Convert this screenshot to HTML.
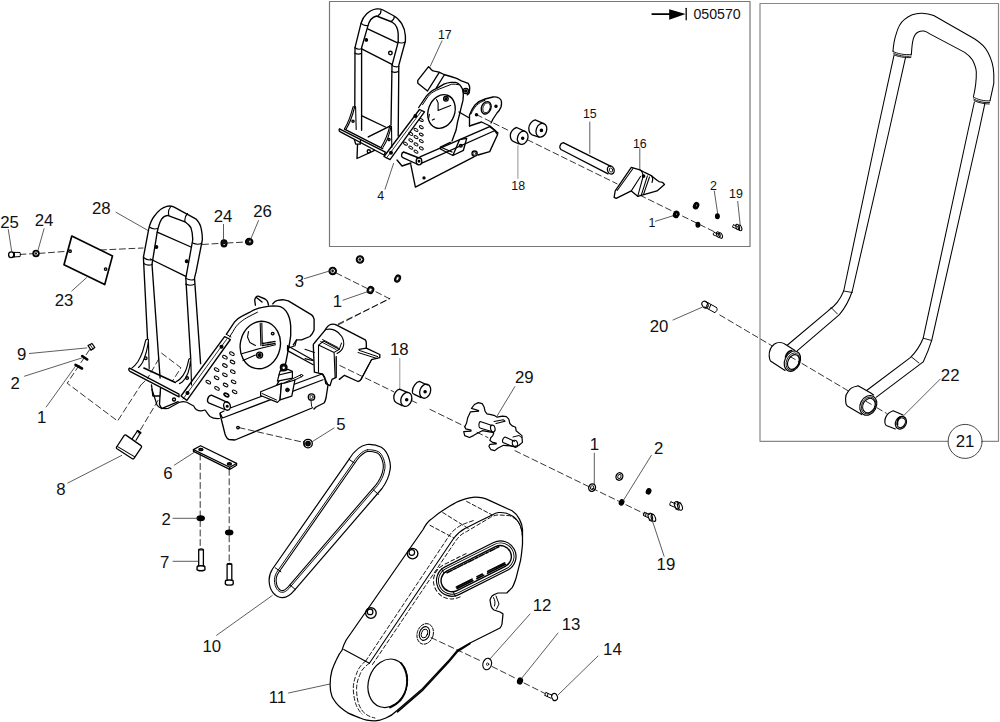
<!DOCTYPE html>
<html><head><meta charset="utf-8"><style>
html,body{margin:0;padding:0;background:#fff;}
svg{display:block;}
text{font-family:"Liberation Sans",sans-serif;fill:#111;}
</style></head><body>
<svg width="1000" height="722" viewBox="0 0 1000 722">
<rect width="1000" height="722" fill="#fff"/>
<g fill="none" stroke="#000" stroke-width="1.35" stroke-linejoin="round" stroke-linecap="round">
<!-- frames -->
<rect x="329.5" y="1.5" width="420.5" height="245" stroke="#777" stroke-width="1.2"/>
<path d="M760,441.3 V3.5 H998.5 V441.3 H982.1 M948.1,441.3 H760" stroke="#888" stroke-width="1.2"/>
<circle cx="965.1" cy="441.4" r="17" stroke="#444" stroke-width="1"/>
<!-- arrow 050570 -->
<path d="M652.1,14.1 H670" stroke-width="1.6"/>
<path d="M669.2,9.3 L685.6,14.1 L669.2,19.8 Z" fill="#000" stroke="none"/>
<path d="M686.2,8.3 V19.8" stroke-width="1.3"/>
<text x="693.4" y="19.3" font-size="15.2" textLength="47.3" lengthAdjust="spacingAndGlyphs" stroke="none">050570</text>

<!-- top box: handle frame -->
<path d="M354.8,106.8 L355,47.7 L361,23.3 C363,16 369,10 376.6,8.9 C379,8.6 381,9 383,10 L393.2,15.5 C400,19 405,27 405.4,36 L405.4,41 L398.8,65.4 L398.2,136"/>
<path d="M361.6,130.3 L361.6,47.7 L367.7,26.6 C369,21 372,17 376.6,16 L392,22 C396,24.5 398,28 398.2,34 L398.2,42 L392,65.4 L391,125"/>
<path d="M361.1,23.3 Q363.8,26.1 367.7,25.5 M378.2,15.5 Q381.2,13.7 381.0,10.2 M391.0,21.6 Q394.2,20.1 394.3,16.6 M397.6,42.1 Q401.5,43.9 405.4,42.1 M355.0,47.7 Q358.0,50.0 361.6,48.8 M355.0,53.2 Q358.3,55.0 361.6,53.2 M392.1,65.4 Q395.2,67.7 398.8,66.5 M391.6,71.5 Q394.9,73.3 398.2,71.5" stroke-width="1.15"/>
<path d="M367.7,28.8 L397,42.7 M361.6,48.8 L392,64.3"/>
<circle cx="366.3" cy="39.9" r="1.2" fill="#000"/>
<circle cx="390.4" cy="53" r="1.8"/>
<!-- bracket at bottom of handle -->
<path d="M339.5,128.8 L385.4,152.2 M339,129.7 C339,131 339.5,131.5 340.4,131.8 L384,155 M385.4,152.2 L384,155"/>
<path d="M344.5,129.2 L382.7,148.6"/>
<path d="M353,106.8 C351,115 348,123 344.5,128.8 M353,106.8 L355.5,106.8 M354.5,107.5 C352.5,116 349.5,123.5 346,129.3" stroke-width="1.1"/>
<circle cx="353" cy="121.2" r="1.1"/>
<path d="M355.6,107 L356.2,129.5 M391.5,126.5 L391.8,147.5" stroke-width="1.1"/>
<path d="M389.9,125.7 C388,134 385,141 381.4,146.8 M389.9,125.7 L391.5,126.5 M391,126.5 C389.5,135 386.5,142 383,147.3" stroke-width="1.1"/>
<circle cx="389" cy="139.6" r="1.1"/>
<path d="M368.3,136.9 L389.9,126.1" stroke-width="1.6"/>
<path d="M362,115.8 L385.4,127"/>
<path d="M354.4,139.6 L355.7,144.1 L360.2,144.1 L360.5,140.5 M357.5,145 L357,158.5 L374.6,150.4"/>
<circle cx="368.8" cy="151.3" r="1.6"/>

<!-- perforated strip -->
<path d="M384,156.5 L419.5,109.5 L424.5,111.8 L390,159.6 Z"/>
<path d="M421.5,111 L386.5,158" stroke-width="0.8"/>
<circle cx="391" cy="152.7" r="1.3" fill="#000"/>
<circle cx="415.4" cy="116" r="1.3" fill="#000"/>
<!-- holes grid -->
<g stroke-width="1">
<ellipse cx="421.3" cy="120" rx="2.2" ry="1.2" transform="rotate(30 421.3 120)"/>
<ellipse cx="421.3" cy="127.2" rx="2.2" ry="1.2" transform="rotate(30 421.3 127.2)"/>
<ellipse cx="421.3" cy="134.5" rx="2.2" ry="1.2" transform="rotate(30 421.3 134.5)"/>
<ellipse cx="421.3" cy="141.1" rx="2.2" ry="1.2" transform="rotate(30 421.3 141.1)"/>
<ellipse cx="421.3" cy="148.3" rx="2.2" ry="1.2" transform="rotate(30 421.3 148.3)"/>
<ellipse cx="416" cy="129.9" rx="2.2" ry="1.2" transform="rotate(30 416 129.9)"/>
<ellipse cx="416" cy="137.1" rx="2.2" ry="1.2" transform="rotate(30 416 137.1)"/>
<ellipse cx="416" cy="144.3" rx="2.2" ry="1.2" transform="rotate(30 416 144.3)"/>
<ellipse cx="416" cy="151.6" rx="2.2" ry="1.2" transform="rotate(30 416 151.6)"/>
<ellipse cx="410.8" cy="133.8" rx="2.2" ry="1.2" transform="rotate(30 410.8 133.8)"/>
<ellipse cx="410.8" cy="140.4" rx="2.2" ry="1.2" transform="rotate(30 410.8 140.4)"/>
<ellipse cx="410.8" cy="147.6" rx="2.2" ry="1.2" transform="rotate(30 410.8 147.6)"/>
<ellipse cx="405.5" cy="143.7" rx="2.2" ry="1.2" transform="rotate(30 405.5 143.7)"/>
</g>
<!-- teardrop plate -->
<path d="M418.7,107.5 L424.5,98.8 C426,96.5 427.5,94.5 429.4,93 C432,90.5 434.5,89.2 437.2,88.1 L443.9,84.2 C446,83.2 448.5,82.5 450.7,82.3 L455.6,82.3 C457,82.6 458,83.2 458.5,83.8 C460,85 461,86 461.4,87.2 C462.3,88.5 462.8,89.8 462.9,91 C463.3,92.5 463.4,94 463.3,95.9 C463.2,97.5 463.1,99 462.9,100.7 L461.4,106.6 L459.5,114.3 L457.5,122.1 L456.1,130 L452,141"/>
<path d="M422.6,104.6 L427,98 C428,96.5 428.6,95.7 429.4,94.9 C432,92.3 435.5,90.5 439.1,89.1 L451.7,84.2 C454,84 456.5,84.2 458.5,84.7" stroke-width="1"/>
<ellipse cx="441.5" cy="111.5" rx="13.2" ry="17.3" transform="rotate(20 441.5 111.5)"/>
<path d="M438.1,102.7 L438.1,110.4 L443,108.5 L450.7,105.6 M436.5,99.5 L438.1,102.7 M429.4,114.3 L428.5,119 M432.3,120.1 L434.5,119" stroke-width="1.1"/>
<circle cx="445.9" cy="98.8" r="2.3"/>
<circle cx="445.9" cy="98.8" r="0.9" fill="#000"/>
<!-- part 17 shroud -->
<path d="M428.4,66.8 C429.5,67.3 430.3,68.2 430.9,69.2 C432,70.3 433,70.9 434.2,71.2 L439.1,72.1 L443.9,74.5 L450.7,76.5 L456.6,78.4 L461.4,80.9 L468.2,83.3 C469.3,85 469.8,86.5 469.7,88.1 C469.6,90 469.4,91.5 469.2,93 L467.2,94.9 M428.4,66.8 L417.8,80.4 L417.8,83.3 L427.5,91 M439.1,72.6 L427.5,91 M443.9,75.5 L436.2,88.1"/>
<circle cx="465.8" cy="91" r="2.6"/>
<circle cx="465.8" cy="91" r="1.1" fill="#000"/>
<!-- bottom foot bracket -->
<path d="M450.3,142.4 L440.4,147 L440.4,149 L452.9,155.5 L463.4,150.3 L466.7,138.4 L459.5,139.7 M452.9,155.5 L459.5,139.7 M440.4,147 L452,152"/>
<circle cx="460.8" cy="145.7" r="1.4"/>
<!-- ear plate -->
<path d="M469.5,126 L469.5,115 C471,111 473,107.5 475,105 C478,102 481.5,100 485,99 L493,97 C495.5,96.8 497.5,97.2 499,98 C500.8,99 501.5,100.5 501.5,102 C501.6,104 501.4,105.5 501,107 C500,109.5 498.5,111.5 497,113 L493,119 L491,123" stroke-width="1.35"/>
<path d="M471,114 C472.5,110.5 474.5,107.5 476.5,105.5 C479,103 482,101.3 485,100.3" stroke-width="1"/>
<path d="M469.5,126 L481.5,122 L490,126 L498,133" stroke-width="1.35"/>
<ellipse cx="486.2" cy="107.8" rx="4.7" ry="6.4" transform="rotate(22 486.2 107.8)" stroke-width="1.4"/>
<ellipse cx="486.6" cy="107.8" rx="3.5" ry="5.1" transform="rotate(22 486.6 107.8)" stroke-width="0.8"/>
<circle cx="496" cy="106.3" r="1.1" fill="#000"/>
<circle cx="476.5" cy="114.8" r="1.1" fill="#000"/>
<path d="M459,112 L468.5,117.5" stroke-width="1.4"/>
<!-- shaft/rod and lower plate -->
<path d="M420,156.8 L489.7,126.6 M421.3,163.4 L495,130.5 M489.7,126.6 L495,130.5"/>
<path d="M410.8,164.7 L415.4,187.1 L473.9,156.8 M478,155 L489.7,151.6 L497.6,134.5 L495,131.2"/>
<circle cx="474.6" cy="153.6" r="2.6"/>
<circle cx="474.6" cy="153.6" r="1.4" stroke-width="0.7"/>
<circle cx="424" cy="177.9" r="1" fill="#000"/>
<!-- roller -->
<path d="M403.6,152 L419,158 M402.8,157.6 L418,164.5 M403.6,152 C401,153 401,157 402.8,157.6"/>
<ellipse cx="419" cy="161.3" rx="2.8" ry="3.6"/>
<circle cx="419" cy="161.3" r="0.8" fill="#000"/>
<!-- lower edge of perforated plate (below strip) -->
<path d="M397,160 L402,166 L411,163" />

<!-- dashed axis in top box -->
<path d="M476.6,114.7 L510,131.2 M527.5,139.8 L617,183.8 M640,195.2 L719.5,234.3" stroke-width="0.8" stroke-dasharray="6,3.5"/>
<!-- leaders -->
<g stroke-width="0.8" stroke="#333">
<path d="M442,40.8 L430.2,66.4"/>
<path d="M385,189.2 L393.6,163.4"/>
<path d="M517.9,145.6 L517.9,178.4" stroke="#777"/>
<path d="M589.8,122 L589.8,153.3"/>
<path d="M639.8,148.6 L639.8,169.4"/>
<path d="M655.4,221.3 L674.5,215.3"/>
<path d="M714.3,191 L717.8,214.4"/>
<path d="M737.7,201.4 L740.3,225.7"/>
</g>
<!-- bushings 18 -->
<path d="M524.9,131.4 L516.6,127.5 C513.1,128.3 510.3,132.3 510.3,135.3 C510.3,138.3 511.20000000000005,140.6 513.7,141.6 L519.1,144" stroke-width="1.3"/>
<ellipse cx="522.7" cy="137.7" rx="5.1" ry="6.8" transform="rotate(20 522.7 137.7)" stroke-width="1.3"/>
<circle cx="522.7" cy="138.2" r="1.1" fill="#000"/>
<path d="M543.8,123.6 L535.1,119.8 C531.6,120.6 528.8,125 528.8,128 C528.8,131 529.7,133.8 532.2,134.8 L539,137.2" stroke-width="1.3"/>
<ellipse cx="541.4" cy="130.2" rx="5.2" ry="7" transform="rotate(20 541.4 130.2)" stroke-width="1.3"/>
<circle cx="541.4" cy="130.4" r="1.1" fill="#000"/>
<!-- pin 15 -->
<path d="M563.2,142.6 L610.4,166.2 M560.9,149.5 L608.1,173.8 M563.2,142.6 C559.5,143.5 559,148 560.9,149.5"/>
<ellipse cx="610.8" cy="170" rx="3.3" ry="4.1" transform="rotate(-20 610.8 170)"/>
<ellipse cx="611" cy="170" rx="1.6" ry="2.2" transform="rotate(-20 611 170)" stroke-width="0.8"/>
<!-- bracket 16 -->
<path d="M631.3,167.3 L615.2,190.9 L614.1,197.4 L616.2,198.4 L631.3,190.9 L637.7,196.3 L657,190.9 L664.5,184.5 L662.4,182.3 C659.5,182.3 658,181.5 657,180.2 L651.7,175.9 L645.2,172.7 L639.9,169.9 Z" stroke-width="1.3"/>
<path d="M633,168.5 L617.2,190.5 M639.9,169.9 C641.8,171.2 643,173.5 643.1,176.5 L637.7,196.3 M647.4,175.9 L641.2,195.5 M649.5,177 L643.5,194.5 M651.7,175.9 C653,178 653,180.5 652,182.5 M631.3,190.9 L640.5,176.5" stroke-width="1.05"/>
<circle cx="643.5" cy="176" r="1.2" fill="#000"/>
<!-- washers / screws -->
<ellipse cx="676.2" cy="214.4" rx="2.6" ry="3.2" transform="rotate(20 676.2 214.4)" fill="#000"/>
<ellipse cx="676.6" cy="214.2" rx="0.6" ry="0.9" fill="#777" stroke="none"/>
<ellipse cx="696.1" cy="205.7" rx="2.4" ry="3.2" transform="rotate(25 696.1 205.7)" fill="#000"/>
<ellipse cx="696.4" cy="205.5" rx="0.6" ry="0.9" fill="#777" stroke="none"/>
<ellipse cx="697.9" cy="224.8" rx="1.8" ry="2.3" fill="#000"/>
<ellipse cx="717.4" cy="216.3" rx="1.8" ry="2.3" fill="#000"/>
<path d="M714.2,232.4 L717.8,234 M713.4,234.8 L717,236.4 M714.2,232.4 C713.2,233 713,234.3 713.4,234.8" stroke-width="0.95"/>
<ellipse cx="718.3" cy="234.6" rx="1.7" ry="2.9" transform="rotate(-20 718.3 234.6)" stroke-width="1.05"/>
<ellipse cx="720.6" cy="235.5" rx="1.7" ry="2.9" transform="rotate(-20 720.6 235.5)" stroke-width="1.05"/>
<path d="M733.6,224.8 L737.2,226.4 M732.8,227.2 L736.4,228.8 M733.6,224.8 C732.6,225.4 732.4,226.7 732.8,227.2" stroke-width="0.95"/>
<ellipse cx="737.7" cy="227" rx="1.7" ry="2.9" transform="rotate(-20 737.7 227)" stroke-width="1.05"/>
<ellipse cx="740" cy="227.9" rx="1.7" ry="2.9" transform="rotate(-20 740 227.9)" stroke-width="1.05"/>

<g stroke-width="1.05">
<!-- big handle 21 -->
<path d="M893,51.4 C893.5,44 894.5,39 895.9,34.9 C898,27 901,22 904.6,19.4 C909,15.5 915,13 922,13.2 C926,13.3 930,14 933.7,15.5 L974.4,38.8 C981,43 985.5,47.5 988,52.4 C991.5,59 993.5,66 993.8,73.7 L993.8,83.4 L990,100.8"/>
<path d="M911.4,54.3 C911.8,47 912.3,42 913.3,38.8 C914.5,35 916,33 918.2,32 C920,31 922,30.8 924,31 C926,31.5 928,32.5 929.8,33.9 L964.7,52.4 C968.5,55 971,57.5 972.5,60.1 C974.5,64 976,68 976.3,71.7 C976.5,80 975.5,88 973.4,97"/>
<!-- caps -->
<path d="M893,51.4 C896,53.5 906,55.5 911.4,54.3 M893.5,53.2 C897,55.3 906,57.2 911.2,56 M894,54.8 C897,56.5 906,58.2 910.8,57.5" stroke-width="0.9"/>
<path d="M973.4,97 C977,99.5 985,101.5 990,100.8 M973.6,99 C977,101.3 985,103.2 989.6,102.6 M974,100.6 C977.5,102.5 985,104.2 989.3,104" stroke-width="0.9"/>
<!-- legs -->
<path d="M894,55.3 L877.7,130 L843.7,291 C840,300 835,306 828.7,310.3 L787.5,345"/>
<path d="M905.6,57.2 L889.3,130 L852.3,291 C849,301 845,308 839.4,314.6 L797.4,350.6"/>
<path d="M974.4,102 L968.2,130 L923.2,338.2 C920,346 916,352 910.3,357.6 L866.6,390.5"/>
<path d="M985,102.8 L979.2,130 L931.7,340.4 C929,349 926.5,355 923.2,361.9 L876.4,397.1"/>
<!-- bend marks -->
<path d="M843.7,291 L852.3,292.5 M831,307.5 L837.5,314 M923.2,338.2 L931.7,340.5 M911.5,357 L919,363" stroke-width="0.9"/>
<!-- collars -->
<path d="M794.9,350.6 L786.8,345.3 C783,342.2 778,341.5 774.5,344 C770.5,347 769,352 769.2,356 C769.3,358 769.6,359.5 770.5,361 L785,370.5" stroke-width="1.15"/>
<ellipse cx="792.4" cy="361.2" rx="7.6" ry="10.6" transform="rotate(25 792.4 361.2)" stroke-width="1.15"/>
<ellipse cx="792.9" cy="361.6" rx="6.3" ry="9.1" transform="rotate(25 792.9 361.6)" stroke-width="0.8"/>
<ellipse cx="793.4" cy="362" rx="5.4" ry="7.7" transform="rotate(25 793.4 362)" stroke-width="1.1"/>
<path d="M785.5,357 C786.5,353 789,351 791.5,350.5" stroke-width="1.6"/>
<path d="M873.6,395 L870.8,393 L860.3,387 C858,385.5 857,386 856.8,386.3 C853,386.8 850,388.5 848.4,391.2 C846.2,394 845.5,396.5 845.6,398.2 C845.6,401 845.8,402.5 846,403.8 C846.5,405 847,405.8 847.7,406.2 L861.7,414.6" stroke-width="1.15"/>
<ellipse cx="868.3" cy="405.4" rx="8" ry="10.3" transform="rotate(28 868.3 405.4)" stroke-width="1.15"/>
<ellipse cx="868.6" cy="405.5" rx="6.8" ry="8.9" transform="rotate(28 868.6 405.5)" stroke-width="0.8"/>
<ellipse cx="868.9" cy="405.6" rx="5.9" ry="7.6" transform="rotate(28 868.9 405.6)" stroke-width="1.1"/>
<!-- bushing 22 -->
<path d="M903,415 L893.2,410.8 C890,412 887.5,413.5 886.2,416.4 C885,418.5 884.7,420.5 884.8,422 C885,423.8 885.5,425 886.2,425.5 L895.3,429" stroke-width="1.15"/>
<ellipse cx="900.9" cy="422.7" rx="5.3" ry="6.6" transform="rotate(28 900.9 422.7)" stroke-width="1.15"/>
<ellipse cx="901.2" cy="422.8" rx="3.9" ry="5.1" transform="rotate(28 901.2 422.8)" stroke-width="1.1"/>
<path d="M897.5,425 C897,421 898.5,418 900.5,417" stroke-width="1.6"/>
<!-- screw 20 -->
<ellipse cx="705" cy="304.6" rx="2.8" ry="3.6" transform="rotate(-35 705 304.6)" stroke-width="1.1"/>
<path d="M706.5,302 L716.5,307.5 M704.5,307 L714.5,312.5 M716.5,307.5 C718,309 717,312 714.5,312.5 M708,303 L706,307 M711,304.5 L709,308.8" stroke-width="1"/>
<!-- dashed -->
<path d="M719.8,315 L772,345.8 M790,356.5 L800,362.3 M802,363.5 L848.5,391 M866,401.3 L874.5,406.3 M877,407.8 L886.4,413.3" stroke-width="0.8" stroke-dasharray="6,3.5"/>
<!-- leaders -->
<path d="M673,320 L702.2,307.2 M940.3,379 L903.8,415.5" stroke-width="0.8" stroke="#333"/>
</g>

<!-- handle 28 -->
<path d="M147.5,338.4 L143.4,257.3 L148.6,229.6 C150,223 152,219 154.6,215.8 C158,211 162,207.5 166.8,206.3 C169,205.8 171.5,206 173.7,206.8 L196.2,219.2 C199,222 200.8,225.5 201.4,229.6 C202.2,234 202.5,237 202.3,240 L196.2,271.2 L194.5,278.1 L200.6,363.6"/>
<path d="M160.1,378 L152,264.3 L157.2,232.2 C158.5,226 159.8,222 161.6,219.2 C163,217 165,215.8 167.6,215.4 L185,221.8 C188,224 190,226 191,227.9 C192.3,232 192.8,236 192.7,240 L185.8,278.1 L190.7,358.2"/>
<path d="M149.4,227.0 Q153.0,229.9 157.5,228.5 M170.5,207.0 Q167.5,210.8 168.9,215.5 M187.5,213.5 Q184.1,217.1 185.0,222.0 M192.8,243.0 Q197.2,245.3 201.8,243.3 M143.6,257.5 Q147.2,260.8 152.0,259.8 M143.8,263.5 Q147.7,266.2 152.2,264.5 M185.8,278.1 Q189.8,281.0 194.5,279.5 M185.5,284.0 Q189.9,286.3 194.4,284.3" stroke-width="1.15"/>
<path d="M157.2,232.2 L191,247 M150.3,259 L185.8,276.4"/>
<circle cx="156.4" cy="247" r="1.3" fill="#000"/>
<circle cx="186.7" cy="261.3" r="1.3" fill="#000"/>
<!-- bracket bar -->
<path d="M129.5,368.1 L179,394.2 M129.5,368.1 C128.3,369 128.6,371 130.4,371.7 L179,396.9 M179,394.2 L179,396.9"/>
<path d="M143.9,368.1 L175.4,382.5" stroke-width="1.6"/>
<!-- gussets -->
<path d="M145.7,340.2 C144.5,345 143.5,349 142.5,352 C141,356 139.5,359 138,361.5 C136,364.5 134,366.5 131.8,368.1 M145.7,340.2 C146.3,339.3 147.5,339 148.4,339.6 M148.4,341 C147.8,346 147,349 146.3,352 C145.2,356 144,359.5 142.5,362.5 C141,365 140,366.2 138.5,367.5 M148.4,340 L149.2,368.5" stroke-width="1.15"/>
<circle cx="145.7" cy="358.2" r="1.3"/>
<path d="M188.9,359.1 C187.8,364 186.8,368 185.5,371 C184,374.5 182,377 180,379 C178.8,380.2 177.5,381 176.3,381.6 M188.9,359.1 C189.5,358.4 190.5,358.4 191,359.2 M190.5,361 C190,366 189,370 188,373 C186.5,377 184.5,380 182.5,381.8 C181.5,382.6 180.5,383.2 179.5,383.6 M190.8,360 L191.5,385" stroke-width="1.15"/>
<circle cx="187.1" cy="378" r="1.3"/>
<!-- below bar -->
<path d="M151.5,385 L152.9,396 L160.1,396 L160.5,388 M160.2,392 L159.5,404.5 L161.6,408.6 L178.2,401.7"/>
<circle cx="174" cy="399.5" r="1.5"/>
<!-- dashed -->
<g stroke-width="0.8" stroke-dasharray="6,3.5">
<path d="M161.6,353.2 L180.9,367.8 L172.6,380.9"/>
<path d="M158.8,358.8 L147.7,378.2"/>
<path d="M89.6,349.6 L67.2,383.2 L117.6,421 L140.8,385.1"/>
<path d="M140.8,385.1 L146,380"/>
<path d="M158.1,400.3 L138.4,433.2"/>
<path d="M20,254.4 L33,253.7 M39,253.4 L68.4,251.2 M100.4,250 L143,248 M202.5,244.5 L221,243.3 M227,243 L246,242"/>
</g>

<!-- perforated strip -->
<path d="M181,396 L224.6,336.6 L230.4,339.5 L186.9,400.4 Z"/>
<path d="M226.5,339.5 L183,399" stroke-width="0.8"/>
<circle cx="221.5" cy="346.8" r="1.4" fill="#000"/>
<circle cx="187.5" cy="393" r="1.4" fill="#000"/>
<!-- holes -->
<g stroke-width="1.05">
<ellipse cx="231.9" cy="353.7" rx="2.6" ry="1.4" transform="rotate(30 231.9 353.7)"/>
<ellipse cx="224.9" cy="357.2" rx="2.6" ry="1.4" transform="rotate(30 224.9 357.2)"/>
<ellipse cx="232.5" cy="362" rx="2.6" ry="1.4" transform="rotate(30 232.5 362)"/>
<ellipse cx="224.9" cy="365.5" rx="2.6" ry="1.4" transform="rotate(30 224.9 365.5)"/>
<ellipse cx="216.6" cy="369.6" rx="2.6" ry="1.4" transform="rotate(30 216.6 369.6)"/>
<ellipse cx="232.8" cy="371.7" rx="2.6" ry="1.4" transform="rotate(30 232.8 371.7)"/>
<ellipse cx="224.9" cy="374.8" rx="2.6" ry="1.4" transform="rotate(30 224.9 374.8)"/>
<ellipse cx="216.6" cy="377.8" rx="2.6" ry="1.4" transform="rotate(30 216.6 377.8)"/>
<ellipse cx="208.3" cy="382.1" rx="2.6" ry="1.4" transform="rotate(30 208.3 382.1)"/>
<ellipse cx="233.6" cy="381.8" rx="2.6" ry="1.4" transform="rotate(30 233.6 381.8)"/>
<ellipse cx="225.6" cy="385" rx="2.6" ry="1.4" transform="rotate(30 225.6 385)"/>
<ellipse cx="217" cy="388.4" rx="2.6" ry="1.4" transform="rotate(30 217 388.4)"/>
<ellipse cx="234.6" cy="391.8" rx="2.6" ry="1.4" transform="rotate(30 234.6 391.8)"/>
<ellipse cx="226.4" cy="395" rx="2.6" ry="1.4" transform="rotate(30 226.4 395)" stroke-width="1.6"/>
</g>
<!-- teardrop plate -->
<path d="M229.5,337 L233,331.5 C235,327.5 237.5,324.5 240,322.5 C243,320 246,318 249,316.5 L257.5,312.2" stroke-width="1"/>
<path d="M226.3,334.3 L234.6,321.9 C237,319 239,317.5 241.6,316.3 L249.9,312.2 C252,311 253.5,310 255.4,309.4 C258,308.3 260,307.7 262.3,307.3 C266,306.5 270,306 273.4,305.9 C276,305.9 278,306 280.3,306.6 C283,307.5 284.5,309 285.9,310.8 C287.5,313 288.5,315 289.3,317.7 C290.2,321 290.6,323.5 290.7,326 L290.7,335.7 C290.2,340 289.5,344 288.6,348.2 L285.9,362 L283.1,373.1 L280.6,370.6 M283.1,373.1 L275.6,387.4"/>
<ellipse cx="260.3" cy="345" rx="20" ry="23.9" transform="rotate(12 260.3 345)"/>
<path d="M260.2,323.2 L260.9,345.4 M261.8,323 L262.3,344 M241.6,353.7 L260.9,348.2 L275.5,344.7 M243,360.6 L255.4,355.1 M248.5,331.6 L247.5,337 L249.9,342.6 L255.4,345.4" stroke-width="1.1"/>
<path d="M262.5,343.5 L275,341.5 M262.5,345.5 L275,343.5" stroke-width="1.4" stroke-dasharray="1.5,1"/>
<circle cx="259.6" cy="355.1" r="3"/>
<circle cx="259.6" cy="355.1" r="1.4" fill="#000"/>
<circle cx="272.7" cy="333.6" r="1.3"/>
<!-- top tab -->
<path d="M254.7,300.4 C255,297.5 256.5,296 258.2,296.2 L265.1,299 C266.5,300 267.5,301 267.9,302.5 L268.5,305 M254.7,300.4 L255.4,305.2 M256.5,297.5 L262,302"/>
<!-- shroud behind -->
<path d="M272.7,303.9 C274.5,301.5 276,300.5 277.6,300.4 C279.5,299.9 281.5,299.7 283.1,299.7 L288.3,300.8 L311.6,314.9 C313,316 313.8,317.5 314.1,319.1 L314.1,329.9 C313,333 311.5,335 309.9,336.5 L301.6,339.9 L296.6,339.9 L293.3,344.8"/>
<path d="M289.3,347.7 L295,345.8 L296.6,339.9" stroke-width="1.1"/>
<!-- base plate under shroud -->
<path d="M287.5,345.7 L312.4,359.8 M287.5,350.6 L313.2,364.8 M287.5,345.7 L287.5,350.6" stroke-width="1.2"/>
<!-- clamp bracket -->
<path d="M324.7,330.6 C326.5,327.5 328.5,325 331,324.4 C333,324 334.8,324.2 336.2,324.9 L365.3,339.9 C366,340.8 366.3,342 366.3,343 L366.3,348.2"/>
<path d="M359,349.3 L366.3,348.2 L379.8,354.5 L379.8,357.6 L371.5,359.7 L361.1,379.4 C360,380.8 359,381.3 358,381.5 L344.5,375.3 L339.3,379.4"/>
<path d="M359,350.3 L377.7,356.6 M358,352.5 L377,358.5 M371.5,359.7 L360,381" stroke-width="1"/>
<path d="M324.7,330.6 L314.4,343 C313.6,343.8 313.3,344.5 313.3,345.1 L314.4,372.1 L322.7,374.2 L324.7,377.3 L325.8,383.6 L330,385.6 L332,379.4 L336.2,377.3 L336.2,356.6"/>
<path d="M318.5,345.1 L318.5,372.1 M318.5,345.1 L323.7,341 L339.3,349.3 L334.1,352.4 L335.1,377.3 M318.5,345.1 L334.1,352.4" stroke-width="1.1"/>
<path d="M320.6,341.5 L336,349.5 M322.5,339.5 L338,347.5" stroke-width="0.9"/>
<path d="M325.8,329.5 C332,328 338.5,331 341.8,336.5 C344,340.5 344,344 343.4,346.2 C342.5,350 340,352 337,353.5" stroke-width="1.1"/>
<path d="M339.3,349.3 L341.5,343" stroke-width="1"/>
<path d="M305,349.3 L314.4,352.4 M305,358.6 L313.3,360.7" stroke-width="1.1"/>
<!-- rod -->
<path d="M230.9,407.7 L322,374 M220,413 L222.5,418 L323,379.7 M220,413 L224,411" stroke-width="1.2"/>
<!-- roller -->
<path d="M211.4,395.2 L228.5,402.8 M208.6,402.8 L224.7,409.5 M211.4,395.2 C207.5,396 206.5,401.5 208.6,402.8"/>
<ellipse cx="227" cy="406" rx="3.3" ry="4.3" transform="rotate(-15 227 406)"/>
<circle cx="227.2" cy="406.2" r="0.9" fill="#000"/>
<!-- foot bracket (center bottom) -->
<path d="M261.9,393.7 L301.1,374.7 M262.5,395.6 L301.8,376.6" stroke-width="1"/>
<ellipse cx="301.6" cy="375.6" rx="1.2" ry="1.1" stroke-width="0.9"/>
<path d="M280,371.2 L288,369.4 L292.4,371.2 L292.4,378.1 L277.4,381.2 Z" fill="#fff" stroke-width="1.2"/>
<path d="M278.7,375 L291.8,371.8" stroke-width="1.2"/>
<path d="M260.6,391.8 L281.5,383.4 L280,399.9 L277.4,402.4 L260.6,395.5 Z" fill="#fff" stroke-width="1.2"/>
<path d="M262,393.5 L276.5,400" stroke-width="1"/>
<path d="M281.5,383.4 L284.3,383.1 L294.9,380 L291.8,396.2 L280,399.9 Z" fill="#fff" stroke-width="1.3"/>
<circle cx="287.4" cy="389.9" r="1.9" fill="#111" stroke-width="0.8"/>
<circle cx="283.7" cy="367.5" r="3.3" fill="#111"/>
<circle cx="283.7" cy="367.8" r="1.2" fill="#fff" stroke="none"/>
<!-- lower plate right end -->
<path d="M322,374 L323,375 L326,381 L328,385 L326,398 C325.5,400 325,402 324,403 L316,407 L314,409"/>
<circle cx="311.5" cy="397" r="3.2"/>
<circle cx="311.5" cy="397" r="1.6" stroke-width="0.8"/>
<path d="M311,400 L311.6,406.3 L313,408" stroke-width="0.9"/>
<!-- bottom guard plate -->
<path d="M220,414 L221,418 L225,434 C226,437 227.5,439 229,439.5 L235,440 L312,408"/>
<circle cx="238" cy="427.6" r="1.3"/>
<!-- plate under teardrop left -->
<path d="M152,389.5 L157,405 C159,408 163,409 168,408.5 L179,402.5 C183,401 187,401.5 190,404 L193.7,406 C195,409 198,411 201.3,410.9 L205.1,410 C206.5,412 208,414.5 210,416.5 C213,418.5 216.5,418.8 219.4,418.5" stroke-width="1.2"/>
<!-- shadow lines on left of teardrop -->
<path d="M226.3,334.3 L231,337" stroke-width="1"/>

<!-- plate 23 -->
<path d="M71.8,236 L112.5,255.9 L104.7,284.6 L64,264.7 Z" stroke-width="1.7"/>
<circle cx="70.1" cy="251.2" r="1.2"/>
<circle cx="105.6" cy="269.1" r="1.2"/>
<!-- screw 25 -->
<ellipse cx="11.2" cy="254.7" rx="2.6" ry="2.9"/>
<path d="M12.5,252.3 L19.8,252.5 M12.5,257 L19.8,256.6 M19.8,252.5 C20.8,253.5 20.8,255.6 19.8,256.6 M14.5,252.4 L14.5,256.9" stroke-width="1"/>
<!-- nut 24 left -->
<circle cx="36" cy="253.5" r="3" fill="#111"/>
<circle cx="36" cy="253.5" r="1.6" fill="none" stroke="#fff" stroke-width="0.7"/>
<!-- nuts 24/26 right -->
<ellipse cx="224" cy="243.3" rx="2.9" ry="3.5" fill="#111"/>
<ellipse cx="224.2" cy="244.5" rx="1" ry="0.6" fill="#ccc" stroke="none"/>
<ellipse cx="249.2" cy="241.7" rx="3.6" ry="3.2" fill="#111"/>
<circle cx="250" cy="241.5" r="0.9" fill="#ccc" stroke="none"/>
<!-- nut 3, nuts near, washers 1 -->
<circle cx="332.7" cy="270.9" r="3.6" fill="#111"/>
<circle cx="332.7" cy="270.9" r="1.8" fill="none" stroke="#fff" stroke-width="0.8"/>
<circle cx="360" cy="259.5" r="3.6" fill="#111"/>
<circle cx="360" cy="259.5" r="1.8" fill="none" stroke="#fff" stroke-width="0.8"/>
<ellipse cx="370.5" cy="290" rx="3" ry="3.6" transform="rotate(25 370.5 290)" fill="#111"/>
<ellipse cx="370.5" cy="290" rx="1.6" ry="2" transform="rotate(25 370.5 290)" fill="#fff" stroke="#111" stroke-width="0.7"/>
<ellipse cx="397.6" cy="278.6" rx="2.6" ry="3.6" transform="rotate(25 397.6 278.6)" fill="#111"/>
<ellipse cx="397.6" cy="278.6" rx="1.4" ry="2" transform="rotate(25 397.6 278.6)" fill="#fff" stroke="#111" stroke-width="0.7"/>
<!-- nut 9, washers 2/1 (left) -->
<path d="M88,345.5 L92,343.5 L94.8,347.5 L91,350.2 Z" stroke-width="1.3"/>
<path d="M90,344.5 L93,349" stroke-width="0.9"/>
<path d="M82.2,356 L87.2,359.5" stroke-width="2.6"/>
<path d="M75.5,364.8 L82,368.5" stroke-width="2.6"/>
<!-- foot 8 -->
<path d="M124.4,435.2 C125,434.7 125.5,434.8 126,435.1 L141,445.6 C141.6,446 141.7,446.8 141.4,447.3 L134,458.3 C133.6,458.9 132.8,459 132.3,458.7 L117,448.8 C116.3,448.3 116.2,447.5 116.6,447 Z" stroke-width="1.3"/>
<path d="M117.6,446.6 L134.4,456.6" stroke-width="1.1"/>
<path d="M132.2,438.6 L137.7,430.5 L140.7,432.5 L136,440.2" stroke-width="1.2"/>
<path d="M137.5,431 L140.5,433" stroke-width="2"/>
<!-- nut 5 -->
<circle cx="308" cy="443.6" r="4.3"/>
<circle cx="308" cy="443.6" r="2.2" fill="#111"/>
<path d="M303.8,441.5 L305,446.5" stroke-width="1"/>
<!-- bar 6 -->
<path d="M193.4,449.6 L200.6,445.7 L236.6,463.4 L229.7,467.3 Z" stroke-width="1.2"/>
<path d="M193.4,449.6 L193.4,451.4 L229.7,469.4 L236.6,465.2 L236.6,463.4 M229.7,467.3 L229.7,469.4" stroke-width="1.2"/>
<ellipse cx="200.9" cy="449.5" rx="2" ry="1.2" fill="#222"/>
<ellipse cx="229.4" cy="463.9" rx="2" ry="1.2" fill="#222"/>
<!-- washers 2 & bolts 7 -->
<ellipse cx="200.7" cy="518.3" rx="3.6" ry="2.3" fill="#000"/>
<ellipse cx="229.2" cy="532.4" rx="3.6" ry="2.3" fill="#000"/>
<path d="M198.7,566 L198.7,550 C198.7,548.5 203.4,548.5 203.4,550 L203.4,566" stroke-width="1.3"/>
<path d="M198.9,550 L203.2,550" stroke-width="1"/>
<path d="M197.2,566.5 C197.5,565.5 204.5,565.5 204.8,566.5 L205,569.5 C204.5,571.2 197.5,571.2 197,569.5 Z" stroke-width="1.4"/>
<path d="M227.1,580.4 L227.1,564.4 C227.1,562.9 231.8,562.9 231.8,564.4 L231.8,580.4" stroke-width="1.3"/>
<path d="M227.3,564.4 L231.6,564.4" stroke-width="1"/>
<path d="M225.5,580.8 C225.8,579.8 232.9,579.8 233.1,580.8 L233.3,583.8 C232.8,585.6 225.8,585.6 225.3,583.8 Z" stroke-width="1.4"/>
<!-- dashed verticals -->
<g stroke-width="0.8" stroke-dasharray="6,3.5">
<path d="M200.2,454 L200.2,548.2"/>
<path d="M229.2,469.3 L229.2,562.5"/>
<path d="M336.4,273.1 L369.4,289.6 M376,291.8 L389.6,298.8 L336.4,324.8"/>
<path d="M239,427.6 L302,442"/>
</g>
<!-- leaders -->
<g stroke-width="0.8" stroke="#333">
<path d="M8.3,229.6 L11.8,252.1"/>
<path d="M44.1,228.7 L37.7,251.2"/>
<path d="M71.8,291 L86.5,277.7"/>
<path d="M116,212.3 L148,230.5"/>
<path d="M223.5,224.4 L223.5,240"/>
<path d="M258.5,220.6 L250.7,239.2"/>
<path d="M304.5,278.6 L329.8,270.9"/>
<path d="M343,300.2 L367.2,291.8"/>
<path d="M29.4,353.5 L86.8,347.9"/>
<path d="M24.5,376.2 L82.6,357.7"/>
<path d="M46.2,407 L75.6,366.1"/>
<path d="M67.7,483.1 L121.7,455.4"/>
<path d="M174.4,465.1 L193.8,452.6"/>
<path d="M173,518.3 L198,518.3"/>
<path d="M173,561.3 L198,561.3"/>
<path d="M334,428 L312.5,441.5"/>
<path d="M399.8,358.3 L399.8,389.8" stroke="#777"/>
</g>

<!-- bushings 18 lower -->
<path d="M408,392.6 L399.5,389.2 C396.0,390.0 393.8,394.1 393.8,397.1 C393.8,400.1 394.3,402 396.8,403 L402.2,405.7" stroke-width="1.3"/>
<ellipse cx="406.3" cy="399.4" rx="5.3" ry="7.2" transform="rotate(20 406.3 399.4)" stroke-width="1.3"/>
<circle cx="406.7" cy="399.8" r="1.1" fill="#000"/>
<path d="M427.4,385 L419.3,381.4 C415.8,382.2 412.5,387.4 412.5,390.4 C412.5,393.4 411.8,393.4 414.3,394.4 L421.1,397.6" stroke-width="1.3"/>
<ellipse cx="425.2" cy="391.2" rx="5.3" ry="7.2" transform="rotate(20 425.2 391.2)" stroke-width="1.3"/>
<circle cx="425.1" cy="391.7" r="1.1" fill="#000"/>
<!-- part 29 -->
<path d="M471.5,408.4 L474.4,404.5 L478.3,402.6 L482.2,403.6 L484.1,407.0 L485.1,411.3 L487.0,413.8 L490.9,414.7 L494.8,415.7 L497.2,417.2 L499.6,416.7 L502.5,416.2 L506.4,416.7 L508.8,419.1 L509.8,423.5 L512.2,425.9 L515.6,427.3 L516.1,430.7 L521.9,435.6 L522.4,442.4 L519.0,445.3 L515.1,446.3 L503.5,445.3 L497.7,448.2 L494.8,450.6 L490.9,449.7 L488.9,446.3 L489.9,444.3 L496.2,443.9 L496.2,443.2 L492.8,442.4 L489.9,440.4 L490.9,437.5 L492.8,435.6 L493.8,432.7 L482.2,430.7 L478.3,432.7 L473.4,435.6 L469.5,437.5 L464.7,435.6 L463.7,431.7 L471.0,431.1 L471.0,430.2 L465.7,428.8 L464.7,426.9 L466.6,423.0 L467.6,418.1 L470.5,411.8 L478.6,411.2 L478.6,410.5 L471.5,408.4" stroke-width="1.2"/>
<path d="M480.2,421.5 L492,425.5 M480,428 L491.5,431.5 M480.2,421.5 C478.5,423 478.5,427 480,428" stroke-width="1.1"/>
<ellipse cx="492.8" cy="428.5" rx="2.2" ry="3.5" transform="rotate(-15 492.8 428.5)" stroke-width="1.1"/>
<path d="M494,421.5 L503.5,419.8 L505,421.2 L496,423.5" stroke-width="1.1"/>
<path d="M505,437 L514.5,441.2 M503,442.5 L512.5,446.5 M505,437 C502.5,438 502,441.5 503,442.5" stroke-width="1.1"/>
<ellipse cx="515" cy="443.8" rx="2.6" ry="3.6" transform="rotate(-15 515 443.8)" stroke-width="1.1"/>
<path d="M513,437 L519,435.5 L521.5,437.5" stroke-width="1"/>
<!-- washers right (1,2) & screws 19 -->
<ellipse cx="592.1" cy="487.6" rx="3.3" ry="3.8" transform="rotate(25 592.1 487.6)"/>
<ellipse cx="592.1" cy="487.6" rx="1.6" ry="2" transform="rotate(25 592.1 487.6)" stroke-width="0.9"/>
<ellipse cx="619.4" cy="476.5" rx="3.3" ry="3.8" transform="rotate(25 619.4 476.5)"/>
<ellipse cx="619.4" cy="476.5" rx="1.6" ry="2" transform="rotate(25 619.4 476.5)" stroke-width="0.9"/>
<ellipse cx="621.6" cy="502.4" rx="2.1" ry="2.7" transform="rotate(25 621.6 502.4)" fill="#000"/>
<ellipse cx="648.6" cy="491.3" rx="2.1" ry="2.7" transform="rotate(25 648.6 491.3)" fill="#000"/>
<path d="M644.5,512.3 L649.5,514.6 M643.6,515.6 L648.5,517.8 M644.5,512.3 C643.2,513 643,515 643.6,515.6 M646.2,513 L645.5,516.6" stroke-width="1"/>
<ellipse cx="650.3" cy="516.8" rx="2" ry="3.6" transform="rotate(-20 650.3 516.8)" stroke-width="1.1"/>
<ellipse cx="653.4" cy="518" rx="2" ry="3.6" transform="rotate(-20 653.4 518)" stroke-width="1.1"/>
<path d="M650.5,513.2 L653.6,514.4 M649.2,520.2 L652.2,521.5" stroke-width="1"/>
<path d="M671,501.8 L676,504 M670,505.2 L675,507.4 M671,501.8 C669.8,502.5 669.6,504.6 670,505.2" stroke-width="1"/>
<ellipse cx="676.8" cy="505.3" rx="2.2" ry="3.8" transform="rotate(-20 676.8 505.3)" stroke-width="1.1"/>
<ellipse cx="680" cy="506.6" rx="2.2" ry="3.8" transform="rotate(-20 680 506.6)" stroke-width="1.1"/>
<path d="M677.2,501.6 L680.4,502.8 M675.6,508.9 L678.8,510.2" stroke-width="1"/>
<!-- dashed main axis -->
<g stroke-width="0.8" stroke-dasharray="6,3.5">
<path d="M339.8,365.5 L393.8,391.8 M411.8,400.6 L416.5,402.9 M430,409.4 L465,426.5 M477,432.3 L488,437.6 M515,450.7 L645,514"/>
<path d="M338.2,324.9 L390,298.3"/>
</g>
<!-- leaders -->
<g stroke-width="0.8" stroke="#333">
<path d="M514.8,386.7 L497,416.1"/>
<path d="M594.3,453.2 L594.3,484.2"/>
<path d="M651.3,455.4 L623.1,500.9"/>
<path d="M652.6,521.5 L664.1,556.2"/>
</g>

<!-- belt 10 -->
<path d="M367,444.5 C371,444.2 377,445 381.4,447.2 C385,449.5 388,454 389.5,460.2 C390.5,464 390.5,468 390,470 C389,477 386,483 382,488.5 L295,589.6 C291,594.5 287,597.5 282.8,597.6 C279,597.8 275.5,596 273,592.7 C270.5,589.5 269.2,585 269.1,580.5 C269,576.5 270.5,572 272.5,569 L349,459.3 C353.5,452 360,445.5 367,444.5 Z" stroke-width="1.2"/>
<path d="M367.61,449.78 L365.86,450.23 L364.56,450.79 L363.25,451.52 L361.30,452.90 L358.21,455.81 L355.42,459.24 L276.67,572.32 L275.68,574.28 L274.74,577.22 L274.42,579.40 L274.55,582.42 L275.20,585.46 L276.33,588.14 L277.06,589.29 L277.91,590.30 L279.26,591.42 L280.21,591.91 L281.68,592.28 L283.26,592.24 L284.21,591.97 L285.29,591.46 L286.44,590.70 L287.63,589.72 L289.41,587.96 L377.44,485.68 L379.86,482.19 L381.99,478.28 L383.32,475.06 L384.29,471.75 L384.94,468.24 L385.02,466.11 L384.81,463.71 L384.31,461.30 L383.58,458.87 L382.64,456.66 L381.49,454.67 L380.16,453.01 L378.85,451.88 L376.39,450.90 L373.97,450.29 L370.62,449.82 L367.61,449.78 Z" stroke-width="0.95"/>
<path d="M367.80,451.47 L366.44,451.83 L365.31,452.31 L364.14,452.96 L362.36,454.23 L359.46,456.96 L356.79,460.24 L278.12,573.21 L276.99,575.59 L276.40,577.59 L276.12,579.50 L276.24,582.21 L276.82,584.96 L277.53,586.78 L278.79,588.73 L280.18,589.98 L280.85,590.34 L281.85,590.59 L282.97,590.56 L283.61,590.38 L284.93,589.68 L285.96,588.92 L288.16,586.81 L376.14,484.58 L377.95,482.04 L379.70,479.06 L381.13,476.03 L382.22,472.94 L382.80,470.58 L383.30,467.50 L383.28,465.43 L383.01,463.23 L382.23,460.17 L381.43,458.07 L380.45,456.19 L379.33,454.63 L377.94,453.32 L375.88,452.53 L372.85,451.81 L370.48,451.51 L367.80,451.47 Z" stroke-width="1.1"/>
<path d="M349,459.3 L354.7,463.3 M275.2,567.8 L280.9,571.8 M378.4,494.3 L373.1,489.7 M295.4,589.6 L290.1,585" stroke-width="1"/>
<!-- cover 11 -->
<path d="M346.2,640 L423.1,529.5 C426,524 428.5,521 431.4,519.1 C436,515 440,512 443.9,509.7 C449,506.5 453.5,503.5 458.4,501.4 C463,499.5 468,497.8 472.9,497.3 C478,497 483.5,497.5 489.3,500.4 L512.1,510.8 C515.5,513 517.8,516 519.4,519.1 C521.5,523 522.5,526.5 522.5,529.5 L522.5,544 C522,550 521.5,555 520.5,560.6 L516.3,577.2 C515,581.5 513.8,585 512.1,587.6 L507,592.8 L498,593 C495.5,593.8 493,595 492,596 C490.3,598.5 490,600 490,600 L491,606 C492,608.5 493,609.5 494,610 L500,612 C502,613 503,614 503,614 L502,624 C501.5,626.5 500.5,627.5 500,628 L480,638 L470,643 L457.2,650.4 L448,661.3 L422.4,688.8 L396.8,710.7 C393,714.5 389.5,716.5 385.9,718 C382,719.8 378.5,720.7 374.9,720.8 C369,720.8 364,719.8 360.2,718 C355,716 351,714.5 347.4,712.6 C342,709 338.5,706 336.5,703.4 C334,700 332.5,698 331.9,696.1 C330.5,692 330.1,688.5 330.1,685.1 C330.1,679 330.8,674.5 331.9,670.5 C333.5,666 335,662.5 336.5,659.5 C338.5,655 340.5,652 342,650.4 L343.8,644.9 Z" stroke-width="1.25"/>
<path d="M470,643.5 L457.5,651.5 L448.5,662.3 L423,689.8 L397.5,711.8" stroke-width="1.6"/>
<!-- seams -->
<path d="M369.4,663.2 L453.9,538 C457,534 461,530.5 465,528.4 L477.8,522.1 L492.1,514.9 C494,513.8 496,512.8 498.5,512.5 C501,512.3 504,512.6 506.4,513.3 C510,514.5 513.5,516.5 516,518.9 C518,521 519.7,523.8 520.8,526.8 C521.8,530 522.3,533 522.4,536.4" stroke-width="1.1"/>
<path d="M343.8,649.4 L369.4,663.2" stroke-width="1.1"/>
<g stroke-width="0.9" stroke-dasharray="4,2.5">
<path d="M372.5,664.5 L455.5,541.2 C459,536 463,533 466.6,531.6 L490.5,517.3 C493,515.8 496,515 498.5,514.9 L509.6,515.7 C514,517.5 517.5,520.5 519.2,523.7 C521,527 522,531 522.4,534.8"/>
<path d="M365.7,661 L449,536 C453,530 459,525.5 466.5,523 L475,520"/>
<path d="M369.4,663.2 C364,667 361,671 360.2,674.1 C357.5,680 356.6,684 356.6,688.8 C356.6,695 357.3,699 358.4,703.4 C360,707.5 361.5,710 363.9,712.6 C367,715.5 370.5,717 374.9,718"/>
<path d="M365.7,661 C360.5,665 357.5,670 356.5,674 C354,680 353.2,685 353.3,689 C353.5,695 354.5,700 355.8,704 C357.5,708.5 359.5,711.5 362,714"/>
<path d="M430,525.3 L453.9,538 M442.7,512.5 L468.2,528.4 M466.6,501.4 L492.1,514.9"/>
</g>
<!-- bolts on cover -->
<circle cx="412.6" cy="553.6" r="5.3"/>
<circle cx="411.8" cy="552.5" r="2.8" stroke-width="1.2"/>
<circle cx="370.9" cy="613" r="5.3"/>
<circle cx="370.1" cy="611.9" r="2.8" stroke-width="1.2"/>
<!-- slot -->
<g transform="translate(476.2,568.6) rotate(-26.6)">
<path d="M-27,18 C-38,18 -45.5,10 -45.5,0 C-45.5,-10 -38,-18 -27,-18 L0,-18" stroke-width="0.9" stroke-dasharray="4,2.5"/>
<rect x="-42.6" y="-15.5" width="85.3" height="31" rx="15.5" stroke-width="1.2"/>
<rect x="-40.6" y="-13.5" width="81.3" height="27" rx="13.5" stroke-width="0.9"/>
<rect x="-38" y="-11" width="76" height="22" rx="11" stroke-width="1.4"/>
<path d="M-26,9.3 L-8,9.3 M-4,9.3 L4,9.3 M8,9.3 L28,9.3 M-26,7.6 L-8,7.6 M-3,7.6 L3,7.6 M9,7.6 L28,7.6" stroke-width="1.6" stroke-dasharray="0.8,0.6"/>
<path d="M-28,-9.4 L30,-9.4" stroke-width="1.5" stroke-dasharray="6,1.5,3,1.5"/>
<path d="M-31,-15.5 L-31,-11 M-31,15.5 L-31,11" stroke-width="0.9"/>
</g>
<!-- big lower hole -->
<ellipse cx="387.7" cy="683.3" rx="19.2" ry="24.7" transform="rotate(18 387.7 683.3)" stroke-width="1.2"/>
<path d="M401,663 C405,668 407,674 407,681 C407,688 405,694 401.5,699 C398,703 394,706 390,707.5" stroke-width="1.8" stroke-dasharray="3,1.3"/>
<!-- hub -->
<ellipse cx="425.2" cy="633.9" rx="8" ry="10.5" transform="rotate(18 425.2 633.9)" stroke-width="0.9" stroke-dasharray="3,1.5"/>
<ellipse cx="424.5" cy="633.5" rx="5" ry="7" transform="rotate(18 424.5 633.5)" stroke-width="1.1"/>
<ellipse cx="424.5" cy="633.5" rx="3" ry="4.5" transform="rotate(18 424.5 633.5)" stroke-width="0.9"/>
<!-- notch detail -->
<path d="M493.5,597.5 C495,600 495.5,603 494.5,606 M496,596 L499,604 L496.5,609" stroke-width="1"/>
<!-- 12,13,14 -->
<ellipse cx="487.2" cy="664" rx="4.3" ry="5.8" transform="rotate(15 487.2 664)" stroke-width="1.1"/>
<circle cx="487.6" cy="664.2" r="1.2" stroke-width="0.8"/>
<ellipse cx="520" cy="681" rx="2.4" ry="3" transform="rotate(15 520 681)" fill="#000"/>
<path d="M546,692.5 L552,695.2 M545,695.5 L551,698.2 M546,692.5 C545,693.5 545,695 545,695.5 M548,693.5 L547.3,696.7" stroke-width="0.95"/>
<ellipse cx="554.6" cy="697" rx="2.8" ry="3.6" transform="rotate(-20 554.6 697)" stroke-width="1.1"/>
<g stroke-width="0.8" stroke-dasharray="6,3.5">
<path d="M431,637.6 L482,661.5 M492,666.5 L516,678.5 M524,683 L545,693.5"/>
</g>
<g stroke-width="0.8" stroke="#333">
<path d="M216.6,635.3 L272.3,595.5"/>
<path d="M288.5,693 L330,684"/>
<path d="M530,614 L489.5,659.5"/>
<path d="M558,633 L521.5,678.5"/>
<path d="M598,656 L558,695"/>
</g>

<g stroke="none" font-size="16.8" text-anchor="middle">
<text x="9.5" y="228.1">25</text>
<text x="44.1" y="225.5">24</text>
<text x="101.3" y="213.7">28</text>
<text x="223" y="222.4">24</text>
<text x="262.5" y="217.3">26</text>
<text x="64" y="306.4">23</text>
<text x="299.4" y="286.6">3</text>
<text x="337.5" y="307.1">1</text>
<text x="21.7" y="359.9">9</text>
<text x="15.1" y="388.7">2</text>
<text x="41.7" y="423.3">1</text>
<text x="399.3" y="355.1">18</text>
<text x="524.3" y="383.0">29</text>
<text x="341" y="430.2">5</text>
<text x="60.8" y="495.0">8</text>
<text x="168" y="479.2">6</text>
<text x="166.1" y="524.9">2</text>
<text x="164.7" y="567.9">7</text>
<text x="211.8" y="651.6">10</text>
<text x="277.4" y="703.1">11</text>
<text x="542" y="610.8">12</text>
<text x="571" y="630.2">13</text>
<text x="612.4" y="654.8">14</text>
<text x="594.3" y="449.7">1</text>
<text x="658.6" y="453.5">2</text>
<text x="665.9" y="569.8">19</text>
<text x="659" y="332.0">20</text>
<text x="950.2" y="380.5">22</text>
<text x="965.1" y="447.2">21</text>
</g><g stroke="none" font-size="12.4" text-anchor="middle">
<text x="444.8" y="38.7">17</text>
<text x="380.7" y="199.9">4</text>
<text x="518.2" y="190.3">18</text>
<text x="589.8" y="117.9">15</text>
<text x="639.8" y="147.7">16</text>
<text x="652" y="226.5">1</text>
<text x="713.5" y="190.1">2</text>
<text x="736" y="197.9">19</text>
</g>
</g>
</svg>
</body></html>
